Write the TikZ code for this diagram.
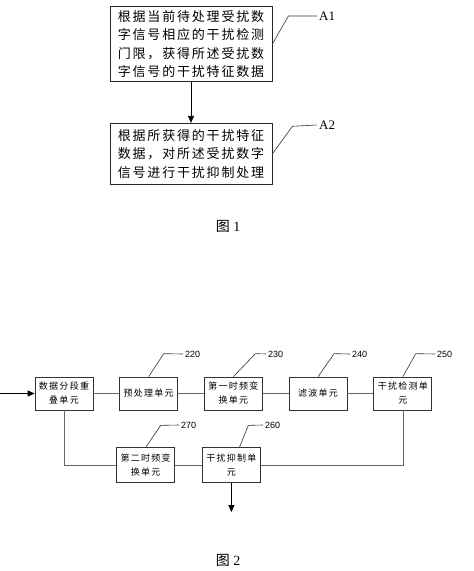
\documentclass[tikz,border=0pt]{standalone}
\usepackage{fontspec}
\setmainfont{Liberation Serif}
\newfontfamily\cjk[LetterSpace=14]{Noto Sans CJK SC}
\newfontfamily\numfont{Liberation Sans}
\usetikzlibrary{
  arrows.meta,
  positioning
}
\tikzset{
  stepbox/.style={
    draw=black!85,
    line width=0.8pt,
    align=left,
    minimum width=162pt,
    inner xsep=7pt,
    inner ysep=4pt,
    font=\cjk\fontsize{13}{18.3}\selectfont
  },
  unitbox/.style={
    draw=black!80,
    line width=0.7pt,
    align=center,
    minimum width=58pt,
    minimum height=33pt,
    inner sep=3pt,
    font=\cjk\fontsize{9}{14}\selectfont
  },
  link/.style={draw=black!60,line width=0.6pt},
  leader/.style={draw=black!80,line width=0.6pt},
  flowarrow/.style={-{Triangle[length=7pt,width=6pt]},line width=0.8pt,draw=black},
  steplabel/.style={font=\fontsize{13}{13}\selectfont,inner sep=2pt,anchor=west},
  numlabel/.style={font=\numfont\fontsize{9}{9}\selectfont,inner sep=2pt,anchor=west},
  figcap/.style={font=\fontsize{14}{14}\selectfont}
}

\begin{document}
\begin{tikzpicture}[x=1pt,y=1pt,node distance=26pt]
  \useasboundingbox (0,0) rectangle (474,-571);

  % Fig. 1
  \node[stepbox,minimum height=74pt] (a1) at (191,-44) {
    根据当前待处理受扰数\\字信号相应的干扰检测\\门限，获得所述受扰数\\字信号的干扰特征数据};
  \node[stepbox,minimum height=61pt,below=41pt of a1] (a2) {
    根据所获得的干扰特征\\数据，对所述受扰数字\\信号进行干扰抑制处理};
  \draw[flowarrow] (a1)--(a2);
  \node[steplabel] (la1) at (317,-16) {A1};
  \node[steplabel] (la2) at (317,-125) {A2};
  \draw[leader] (a1.east)--++(16,28)--(la1.west);
  \draw[leader] (a2.east)--++(20,27.5)--(la2.west);
  \node[figcap] (cap1) at (228,-226) {{\cjk 图} 1};

  % Fig. 2
  \coordinate (in) at (0,-393.5);
  \node[unitbox] (dat) at (64,-393.5) {数据分段重\\叠单元};
  \node[unitbox,right=of dat] (pre) {预处理单元};
  \node[unitbox,right=of pre] (tf1) {第一时频变\\换单元};
  \node[unitbox,right=of tf1] (filt) {滤波单元};
  \node[unitbox,right=of filt] (det) {干扰检测单\\元};
  \node[unitbox,minimum height=35pt,below=37pt of pre,xshift=-3pt] (tf2) {第二时频变\\换单元};
  \node[unitbox,minimum height=35pt,right=27pt of tf2] (sup) {干扰抑制单\\元};
  \coordinate[below=29pt of sup] (out);

  \draw[flowarrow] (in)--(dat);
  \draw[link] (dat)--(pre);
  \draw[link] (pre)--(tf1);
  \draw[link] (tf1)--(filt);
  \draw[link] (filt)--(det);
  \draw[link] (dat) |- (tf2);
  \draw[link] (tf2)--(sup);
  \draw[link] (det) |- (sup);
  \draw[flowarrow] (sup)--(out);

  \node[numlabel] (n220) at (183,-354) {220};
  \node[numlabel] (n230) at (266,-354) {230};
  \node[numlabel] (n240) at (350,-354) {240};
  \node[numlabel] (n250) at (435,-354) {250};
  \node[numlabel] (n270) at (179,-425) {270};
  \node[numlabel] (n260) at (263,-425) {260};
  \draw[leader] (pre.north)--++(15,23)--(n220.west);
  \draw[leader] (tf1.north)--++(22,23)--(n230.west);
  \draw[leader] (filt.north)--++(16,23)--(n240.west);
  \draw[leader] (det.north)--++(13,23)--(n250.west);
  \draw[leader] (tf2.north)--++(15,22)--(n270.west);
  \draw[leader] ([xshift=8pt]sup.north)--++(9,22)--(n260.west);
  \node[figcap] (cap2) at (228,-560) {{\cjk 图} 2};
\end{tikzpicture}
\end{document}
